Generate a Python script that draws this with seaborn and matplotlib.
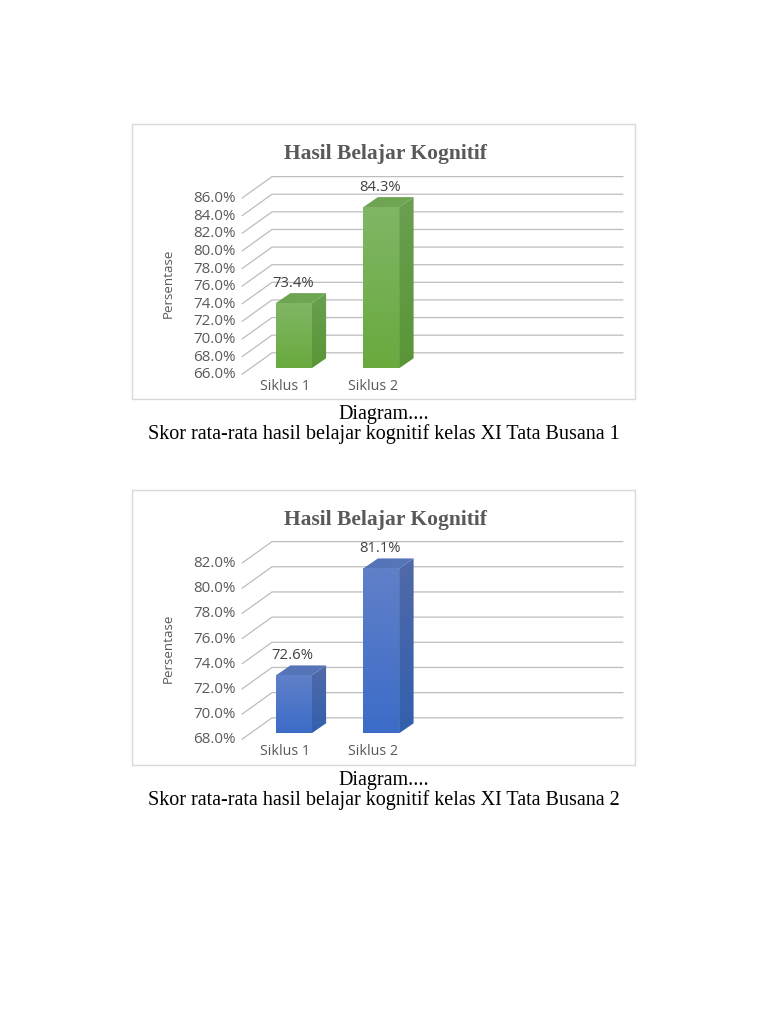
import numpy as np
import matplotlib
matplotlib.use("Agg")
import matplotlib.pyplot as plt
import seaborn as sns
from matplotlib.patches import Polygon, Rectangle
from matplotlib.transforms import Affine2D
from matplotlib.colors import to_rgb

siklus = ["Siklus 1", "Siklus 2"]
nilai_1 = [73.4, 84.3]
nilai_2 = [72.6, 81.1]
ticks_1 = [66, 68, 70, 72, 74, 76, 78, 80, 82, 84, 86]
ticks_2 = [68, 70, 72, 74, 76, 78, 80, 82]
judul = "Hasil Belajar Kognitif"
sumbu_y = "Persentase"
caption_1 = "Skor rata-rata hasil belajar kognitif kelas XI Tata Busana 1"
caption_2 = "Skor rata-rata hasil belajar kognitif kelas XI Tata Busana 2"

W, H = 768, 1024
GREY = "#595959"
GRID = "#bdbdbd"
SANS = "Open Sans"
SERIF = "Liberation Serif"

sns.set_style("white")
fig = plt.figure(figsize=(W / 100, H / 100), dpi=100, facecolor="white")


def px_text(x, y, s, **kw):
    fig.text(x / W, 1 - y / H, s, ha="center", va="center", **kw)


def shade(ax, verts, top, bottom):
    # fill a pixel polygon with a vertical gradient
    data = ax.transData.inverted().transform(verts)
    poly = Polygon(data, closed=True, fc="none", ec="none")
    ax.add_patch(poly)
    ramp = np.linspace(0, 1, 64)[:, None, None]
    img = (1 - ramp) * np.array(to_rgb(top)) + ramp * np.array(to_rgb(bottom))
    x0, y0 = data.min(axis=0)
    x1, y1 = data.max(axis=0)
    im = ax.imshow(img, extent=[x0, x1, y0, y1], origin="upper", aspect="auto", zorder=3)
    im.set_clip_path(poly)


def chart(frame_top, base, values, ticks, face, side, cap):
    fig.add_artist(Rectangle(((132 / W), 1 - (frame_top + 274.5) / H), 503 / W, 275 / H,
                             transform=fig.transFigure, fc="white", ec="#d9d9d9", lw=1,
                             zorder=-2))
    left, right, height = 250, 600, 176.2
    ax = fig.add_axes([left / W, 1 - base / H, (right - left) / W, height / H])
    ax.patch.set_alpha(0)
    sns.barplot(x=siklus, y=values, width=0.408, color=face[0], saturation=1, ax=ax, zorder=2)
    ax.set_xlim(-0.5, 3.5)
    ax.set_ylim(ticks[0], ticks[-1])
    sns.despine(ax=ax, left=True, bottom=True, top=True, right=True)

    # back wall and floor lines, in pixels relative to the bar plane
    to_px = ax.get_yaxis_transform()
    for t in ticks:
        _, y = to_px.transform((0, t))
        xs = np.array([242, 272, 623])
        ys = np.array([y - 6, y + 15.5, y + 15.5])
        fig.add_artist(plt.Line2D(xs / W, ys / H, color=GRID, lw=0.9, zorder=-1,
                                  transform=fig.transFigure))

    ymin = ticks[0]
    for bar, val in zip(ax.patches, values):
        x0 = bar.get_x()
        x1 = x0 + bar.get_width()
        a = ax.transData.transform([(x0, ymin), (x1, ymin), (x1, val), (x0, val)])
        dx, dy = 14.5, 10
        shift = np.array([dx, dy])
        shade(ax, [a[1], a[1] + shift, a[2] + shift, a[2]], side[0], side[1])
        shade(ax, [a[3], a[2], a[2] + shift, a[3] + shift], face[2], face[2])
        shade(ax, a, face[0], face[1])
        bar.set_visible(False)
        ax.annotate(f"{val:.1f}%", (0.5 * (x0 + x1), val), xytext=(-1, 20),
                    textcoords="offset pixels", ha="center", va="center",
                    family=SANS, fontsize=10.7, color="#404040")

    ax.set_yticks(ticks, [f"{t:.1f}%" for t in ticks], family=SANS, fontsize=10.9, color=GREY)
    ax.set_xticks([0, 1], siklus, family=SANS, fontsize=10.3, color=GREY)
    ax.tick_params(length=0, pad=0)
    for lab in ax.get_yticklabels():
        lab.set_transform(lab.get_transform() + Affine2D().translate(-14, -4.5))
    for lab in ax.get_xticklabels():
        lab.set_transform(lab.get_transform() + Affine2D().translate(-8.5, -11))
    ax.set_xlabel("")
    ax.set_ylabel(sumbu_y, family=SANS, fontsize=9.6, color=GREY)
    ax.yaxis.set_label_coords((175 - left) / (right - left), 0.482)

    px_text(385, frame_top + 29.5, judul, family=SERIF, weight="bold", fontsize=15.5, color=GREY)
    px_text(384, frame_top + 289.5, "Diagram....", family=SERIF, fontsize=14.5, color="black")
    px_text(384, frame_top + 310, cap, family=SERIF, fontsize=14.5, color="black")


chart(124.5, 368.3, nilai_1, ticks_1,
      ("#80b665", "#69aa3e", "#6fa552"), ("#6a9f50", "#5a9637"), caption_1)
chart(490.5, 733.3, nilai_2, ticks_2,
      ("#6080c8", "#3c6cc8", "#5675b8"), ("#5169a8", "#3260ae"), caption_2)

fig.savefig("out.png", dpi=100, facecolor="white")
